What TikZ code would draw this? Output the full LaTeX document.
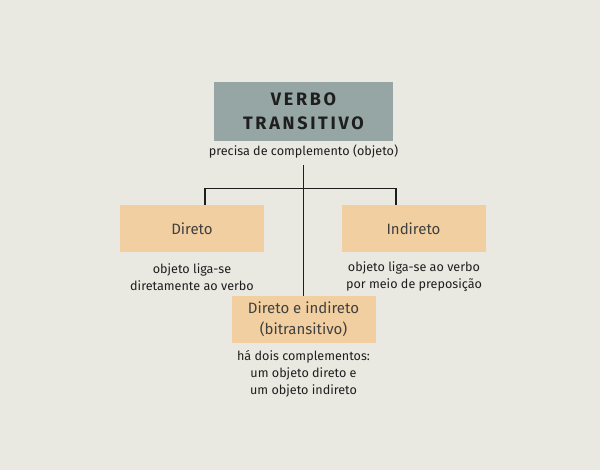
\documentclass[tikz,border=0pt]{standalone}
\usepackage{fontspec}
\setmainfont{Fira Sans}[Scale=1]
\newfontfamily\titlefont{Fira Sans}[LetterSpace=15]
\definecolor{bg}{HTML}{E9E8E1}
\definecolor{topbox}{HTML}{95A6A4}
\definecolor{subbox}{HTML}{F2CFA0}
\definecolor{ink}{HTML}{1E1E1E}
\begin{document}
\begin{tikzpicture}[x=1pt,y=-1pt,
  boxtop/.style={fill=topbox,draw=none,minimum width=179pt,minimum height=59pt,inner sep=0pt,align=center,font=\titlefont\bfseries\fontsize{18}{24}\selectfont,text=ink},
  boxsub/.style={fill=subbox,draw=none,minimum width=144pt,minimum height=47pt,inner sep=0pt,align=center,font=\fontsize{15}{21}\selectfont,text=ink!85},
  note/.style={align=center,font=\fontsize{12.6}{16.8}\selectfont,text=ink,inner sep=0pt},
  conn/.style={draw=ink,line width=1.6pt}]
\fill[bg] (0,0) rectangle (600,470);
\useasboundingbox (0,0) rectangle (600,470);
\node[boxtop] (verbo) at (303.5,111.5) {VERBO\\TRANSITIVO};
\node[note] (sub) at (303.5,152) {precisa de complemento (objeto)};
\node[boxsub] (direto) at (192,228.5) {Direto};
\node[boxsub] (indireto) at (413.5,228.5) {Indireto};
\node[boxsub] (ambos) at (303.5,319.5) {Direto e indireto\\(bitransitivo)};
\node[note] (ndireto) at (192,277) {objeto liga-se\\diretamente ao verbo};
\node[note] (nindireto) at (414,277) {objeto liga-se ao verbo\\por meio de preposição};
\node[note] (nambos) at (303.5,373.5) {há dois complementos:\\um objeto direto e\\um objeto indireto};
\coordinate (top) at (303.5,165);
\coordinate (jl) at (205,188.5);
\coordinate (jr) at (396,188.5);
\draw[conn] (top) -- (ambos.north);
\draw[conn] (direto.north -| jl) -- (jl) -- (jr) -- (indireto.north -| jr);
\end{tikzpicture}
\end{document}
